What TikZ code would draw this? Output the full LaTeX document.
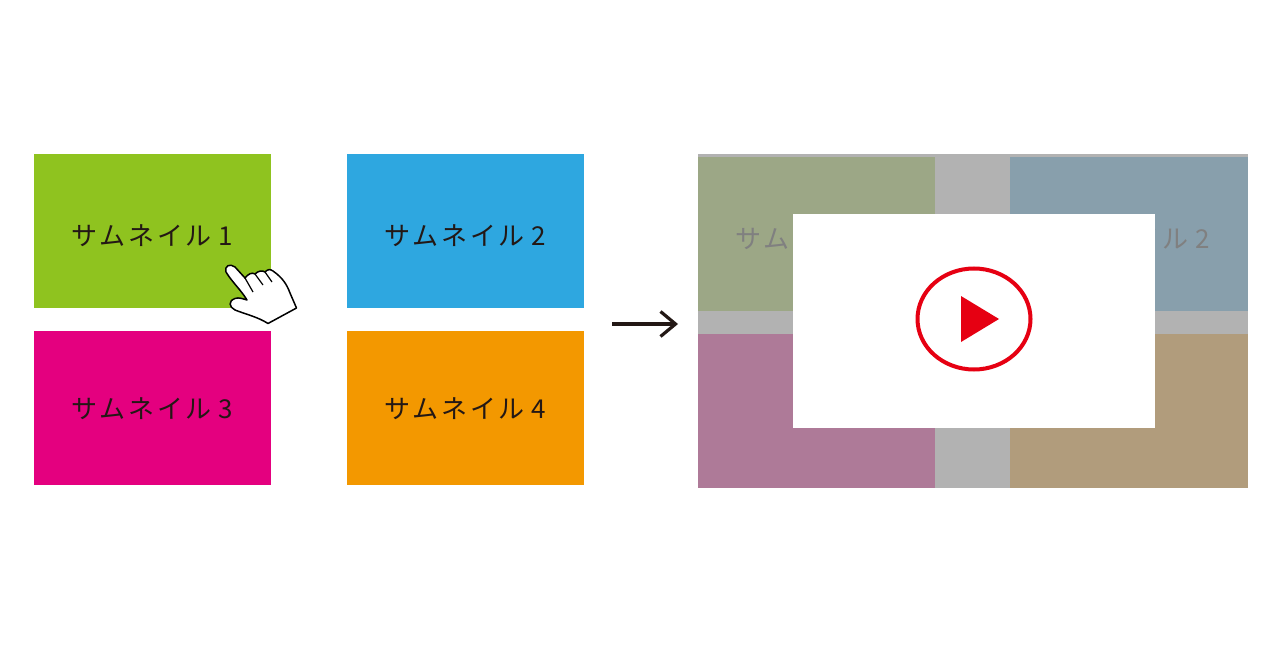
\documentclass[tikz,border=0pt]{standalone}
\usepackage{fontspec}
\setmainfont{Noto Sans CJK JP}[LetterSpace=10]
\usetikzlibrary{arrows.meta}

\definecolor{thumbgreen}{HTML}{8FC31F}
\definecolor{thumbblue}{HTML}{2EA7E0}
\definecolor{thumbpink}{HTML}{E4007F}
\definecolor{thumborange}{HTML}{F39800}
\definecolor{fadegreen}{HTML}{9CA786}
\definecolor{fadeblue}{HTML}{889FAC}
\definecolor{fadepink}{HTML}{AE7A98}
\definecolor{fadeorange}{HTML}{B19C7C}
\definecolor{fadegray}{HTML}{B2B2B2}
\definecolor{playred}{HTML}{E60012}
\definecolor{inkblack}{HTML}{231815}

\tikzset{
    thumb/.style={minimum width=237pt, minimum height=154pt, inner sep=0pt,
        text=inkblack, font=\fontsize{26}{26}\selectfont},
    fadethumb/.style={thumb, minimum width=237.5pt, text=black!28!fadegray}
}

\newcommand{\thumbtext}[2][-15pt]{\raisebox{#1}[0pt][0pt]{サムネイル\hspace{7pt}#2}}

\begin{document}
\begin{tikzpicture}[x=1pt, y=-1pt]

    \useasboundingbox (0, 0) rectangle (1280, 671);

    % Draw the four thumbnails
    \node[thumb, fill=thumbgreen] (thumbone) at (152.5, 231) {\thumbtext{1}};
    \node[thumb, fill=thumbblue] (thumbtwo) at (465.5, 231) {\thumbtext{2}};
    \node[thumb, fill=thumbpink] (thumbthree) at (152.5, 408) {\thumbtext[-10pt]{3}};
    \node[thumb, fill=thumborange] (thumbfour) at (465.5, 408) {\thumbtext[-10pt]{4}};

    % Draw the pointing hand
    \draw[fill=white, line width=1.5pt, line join=round] (226, 272)
        .. controls (224, 266) and (230, 263) .. (235, 267)
        -- (245, 278)
        .. controls (248, 274) and (252, 272) .. (255, 274)
        .. controls (258, 271) and (262, 270) .. (265, 272)
        .. controls (268, 269) and (270, 269) .. (273, 271)
        .. controls (283, 278) and (287, 285) .. (290, 293)
        -- (296.5, 308)
        -- (268, 323.5)
        .. controls (258, 317) and (245, 314) .. (235, 310)
        .. controls (229, 307) and (228, 301) .. (235, 298.5)
        .. controls (239, 297) and (243, 299) .. (247, 300)
        .. controls (241, 290) and (232, 282) .. (226, 272) -- cycle;
    \draw[line width=1.2pt] (245, 278) -- (253, 292);
    \draw[line width=1.2pt] (255, 274) -- (263, 285);
    \draw[line width=1.2pt] (265, 272) -- (272, 282);

    % Draw the arrow
    \coordinate (arrowstart) at (612, 324);
    \coordinate (arrowend) at (678, 324);
    \draw[-{Straight Barb[length=15pt, width=25pt, line width=3.2pt]}, line width=3.2pt, inkblack]
        (arrowstart) -- (arrowend);

    % Draw the faded page behind the player
    \node[minimum width=550pt, minimum height=334pt, inner sep=0pt, fill=fadegray]
        (fadepage) at (973, 321) {};
    \node[fadethumb, fill=fadegreen] (fadeone) at (816.5, 234) {\thumbtext{1}};
    \node[fadethumb, fill=fadeblue] (fadetwo) at (1129, 234) {\thumbtext{2}};
    \node[fadethumb, fill=fadepink] (fadethree) at (816.5, 411) {};
    \node[fadethumb, fill=fadeorange] (fadefour) at (1129, 411) {};

    % Draw the player
    \node[minimum width=362pt, minimum height=214pt, inner sep=0pt, fill=white]
        (player) at (974, 321) {};
    \draw[playred, line width=4pt] (974, 319) ellipse (56.5 and 50.5);
    \fill[playred] (961, 296) -- (999, 319) -- (961, 342) -- cycle;

\end{tikzpicture}
\end{document}
